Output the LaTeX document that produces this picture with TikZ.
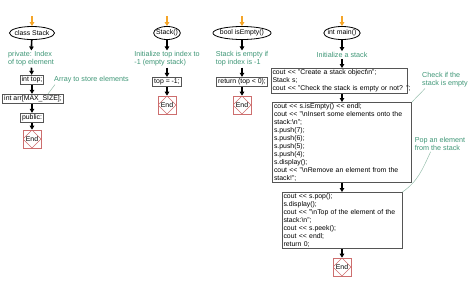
\documentclass[tikz,border=0pt]{standalone}
\usepackage{fontspec}
\setmainfont{Liberation Sans}
\usetikzlibrary{arrows.meta,positioning,shapes.geometric}

\definecolor{notegreen}{RGB}{62,150,118}
\definecolor{endred}{RGB}{205,110,110}
\definecolor{startorange}{RGB}{245,165,40}
\definecolor{boxgray}{RGB}{85,85,85}
\definecolor{linkgray}{RGB}{150,190,172}

\newcommand{\ltlt}{<{}<}
\newcommand{\bsn}{\textbackslash n}
\newcommand{\cl}[1]{\mbox{#1}}

\begin{document}
\begin{tikzpicture}[x=1pt, y=-1pt, font=\fontsize{6.9}{7.9}\selectfont,
  term/.style={ellipse, draw=black, line width=0.8pt, fill=white, inner xsep=-1.5pt, inner ysep=0pt, minimum height=13pt},
  proc/.style={rectangle, draw=boxgray, line width=0.9pt, fill=white, inner sep=1.5pt, align=left},
  note/.style={text=notegreen, align=left, inner sep=1pt, font=\fontsize{7.2}{8}\selectfont},
  endbox/.style={rectangle, draw=endred, line width=0.6pt, minimum size=18pt, inner sep=0pt,
    path picture={\draw[endred, line width=0.6pt] (path picture bounding box.north) -- (path picture bounding box.east)
      -- (path picture bounding box.south) -- (path picture bounding box.west) -- cycle;}},
  flow/.style={-{Triangle[length=4pt,width=4.5pt]}, line width=1.6pt, draw=black},
  startflow/.style={flow, draw=startorange, -{Triangle[length=4pt,width=4.5pt,fill=startorange]}},
  link/.style={draw=linkgray, line width=0.5pt}]
  \useasboundingbox (0,0) rectangle (474,285);

  % class Stack
  \coordinate (s1) at (32,16);
  \node[term] (cls) at (32,33) {class Stack};
  \node[note] (priv) at (31,59) {private: Index\\of top element};
  \node[proc] (top) at (32,80) {int top;};
  \node[proc] (arr) at (33,99) {int arr[MAX\_SIZE];};
  \node[proc] (pub) at (32,118) {public:};
  \node[endbox] (end1) at (32,139) {End};
  \node[note, anchor=west] (arrnote) at (53,80) {Array to store elements};
  \draw[startflow] (s1) -- (cls.north);
  \draw[flow] (cls) -- (priv);
  \draw[flow] (priv) -- (top);
  \draw[flow] (top) -- (top |- arr.north);
  \draw[flow] (top |- arr.south) -- (pub);
  \draw[flow] (pub) -- (end1);
  \draw[link] ([xshift=2pt]arrnote.south west) -- ([xshift=15pt]arr.north);

  % Stack()
  \coordinate (s2) at (167,16);
  \node[term] (ctor) at (167,33) {Stack()};
  \node[note] (init) at (167,59) {Initialize top index to\\-1 (empty stack)};
  \node[proc] (settop) at (167,82) {top = -1;};
  \node[endbox] (end2) at (167,105) {End};
  \draw[startflow] (s2) -- (ctor.north);
  \draw[flow] (ctor) -- (init);
  \draw[flow] (init) -- (settop);
  \draw[flow] (settop) -- (end2);

  % bool isEmpty()
  \coordinate (s3) at (242,16);
  \node[term] (isempty) at (242,33) {bool isEmpty()};
  \node[note] (emptynote) at (242,59) {Stack is empty if\\top index is -1};
  \node[proc] (ret) at (242,82) {return (top < 0);};
  \node[endbox] (end3) at (242,105) {End};
  \draw[startflow] (s3) -- (isempty.north);
  \draw[flow] (isempty) -- (emptynote);
  \draw[flow] (emptynote) -- (ret);
  \draw[flow] (ret) -- (end3);

  % int main()
  \coordinate (s4) at (342,16);
  \node[term] (main) at (342,33) {int main()};
  \node[note] (initstack) at (342,55) {Initialize a stack};
  \node[proc, anchor=north, text width=133pt] (create) at (339,68)
    {\cl{cout \ltlt{} "Create a stack object\bsn";}\\
     \cl{Stack s;}\\
     \cl{cout \ltlt{} "Check the stack is empty or not? ";}};
  \node[proc, anchor=north, text width=136pt] (push) at (342,102)
    {\cl{cout \ltlt{} s.isEmpty() \ltlt{} endl;}\\
     \cl{cout \ltlt{} "\bsn Insert some elements onto the}\\
     \cl{stack:\bsn";}\\
     \cl{s.push(7);}\\
     \cl{s.push(6);}\\
     \cl{s.push(5);}\\
     \cl{s.push(4);}\\
     \cl{s.display();}\\
     \cl{cout \ltlt{} "\bsn Remove an element from the}\\
     \cl{stack!";}};
  \node[proc, anchor=north, text width=117pt] (pop) at (342,192)
    {\cl{cout \ltlt{} s.pop();}\\
     \cl{s.display();}\\
     \cl{cout \ltlt{} "\bsn Top of the element of the}\\
     \cl{stack:\bsn";}\\
     \cl{cout \ltlt{} s.peek();}\\
     \cl{cout \ltlt{} endl;}\\
     \cl{return 0;}};
  \node[endbox] (end4) at (342,267) {End};
  \node[note] (chknote) at (445,80) {Check if the\\stack is empty};
  \node[note] (popnote) at (440,144) {Pop an element\\from the stack};
  \draw[startflow] (s4) -- (main.north);
  \draw[flow] (main) -- (initstack);
  \draw[flow] (initstack) -- (create.north -| initstack);
  \draw[flow] (create.south -| push.north) -- (push.north);
  \draw[flow] (push) -- (pop);
  \draw[flow] (pop) -- (end4);
  \draw[link] ([xshift=4pt]chknote.south west) -- (push.north east);
  \draw[link] ([xshift=17pt]popnote.south west) to[out=-115, in=35] (pop.north east);
\end{tikzpicture}
\end{document}
